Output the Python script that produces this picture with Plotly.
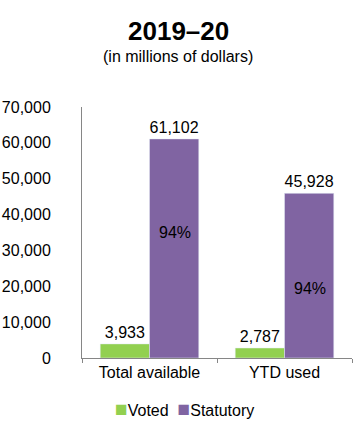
import plotly.graph_objects as go

categories = ["Total available", "YTD used"]
series_names = ["Voted", "Statutory"]
voted = [3933, 2787]
statutory = [61102, 45928]
pct_labels = ["94%", "94%"]
pct_label_y = [35000, 19500]

GREEN = "#92D050"
PURPLE = "#8064A2"
FONT = "Liberation Sans, Arial, sans-serif"

fig = go.Figure()
fig.add_trace(go.Bar(
    name=series_names[0], x=categories, y=voted, marker_color=GREEN,
    text=[f"{v:,}" for v in voted], textposition="outside",
    textfont=dict(size=16, color="black", family=FONT), cliponaxis=False,
))
fig.add_trace(go.Bar(
    name=series_names[1], x=categories, y=statutory, marker_color=PURPLE,
    text=[f"{v:,}" for v in statutory], textposition="outside",
    textfont=dict(size=16, color="black", family=FONT), cliponaxis=False,
))

for i, (lab, yv) in enumerate(zip(pct_labels, pct_label_y)):
    fig.add_annotation(x=i, y=yv, xref="x", yref="y", text=lab, showarrow=False,
                       xshift=25, font=dict(size=16, color="black", family=FONT))

fig.add_annotation(x=0.357, y=1.303, xref="paper", yref="paper", text="<b>2019–20</b>",
                   showarrow=False, yanchor="middle", xanchor="center",
                   font=dict(size=26, color="black", family=FONT))
fig.add_annotation(x=0.357, y=1.203, xref="paper", yref="paper", text="(in millions of dollars)",
                   showarrow=False, yanchor="middle", xanchor="center",
                   font=dict(size=16, color="black", family=FONT))

# legend drawn as text with coloured square glyphs
sq = "<span style='color:{c};font-size:21px'>■</span>"
legend_text = (sq.format(c=GREEN) + series_names[0] + "  "
               + sq.format(c=PURPLE) + series_names[1])
fig.add_annotation(x=0.38, y=-0.203, xref="paper", yref="paper", text=legend_text,
                   showarrow=False, yanchor="middle", xanchor="center",
                   font=dict(size=16, color="black", family=FONT))

fig.update_layout(
    width=354, height=433,
    margin=dict(l=80, r=2, t=107, b=75),
    paper_bgcolor="white", plot_bgcolor="white",
    barmode="group", bargap=0.27, bargroupgap=0,
    font=dict(family=FONT, size=16, color="black"),
    showlegend=False,
    xaxis=dict(showline=True, linecolor="#868686", linewidth=1, ticks="outside",
               tickson="boundaries", ticklen=4, tickcolor="#868686",
               tickfont=dict(size=16, family=FONT, color="black")),
    yaxis=dict(range=[0, 70000], dtick=10000, tickformat=",d", showgrid=False,
               showline=True, linecolor="#868686", linewidth=1, zeroline=False,
               ticks="", ticklabelstandoff=27,
               tickfont=dict(size=16, family=FONT, color="black")),
)

fig.write_html("out.html")
